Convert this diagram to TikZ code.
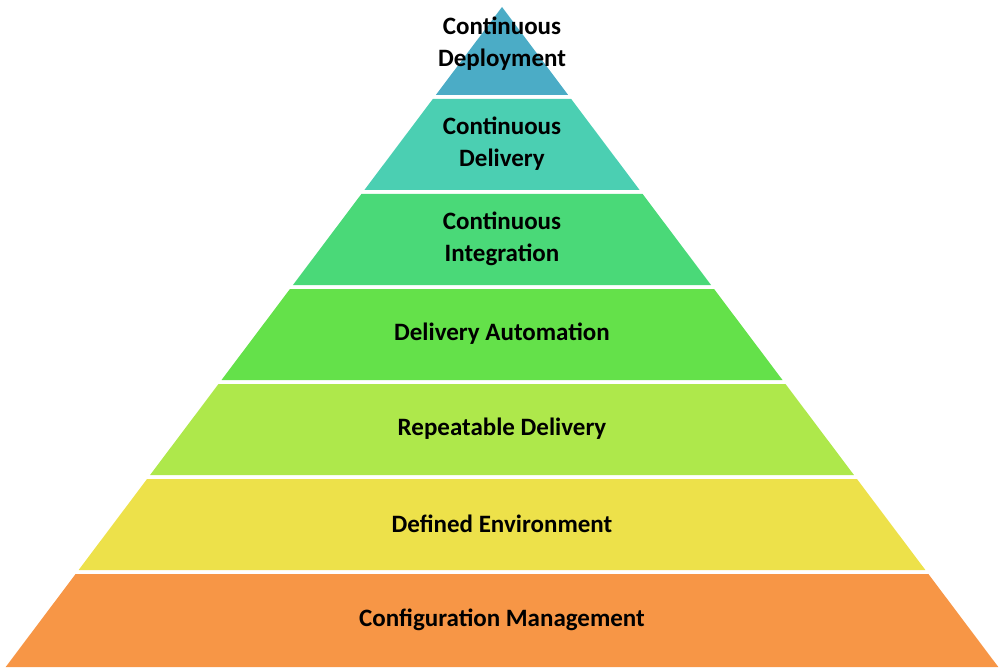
\documentclass[tikz,border=0pt]{standalone}
\usepackage{fontspec}
\setmainfont{Carlito}
\begin{document}
\begin{tikzpicture}[x=1pt,y=-1pt,
  lbl/.style={font=\fontsize{25}{32}\selectfont\bfseries,align=center,text=black}]
\useasboundingbox (0,0) rectangle (1004,671);
\definecolor{c1}{HTML}{4BACC6}
\definecolor{c2}{HTML}{4BCFB2}
\definecolor{c3}{HTML}{4AD978}
\definecolor{c4}{HTML}{64E14A}
\definecolor{c5}{HTML}{AEE84B}
\definecolor{c6}{HTML}{EDE14A}
\definecolor{c7}{HTML}{F79646}
\def\ax{502}\def\ay{7}\def\sl{0.752}
\foreach \t/\b/\c [count=\i] in {7/95/c1,99/190/c2,194/285/c3,289/380/c4,384/475/c5,479/570/c6,574/667/c7}{
  \pgfmathsetmacro\ht{(\t-\ay)*\sl}
  \pgfmathsetmacro\hb{(\b-\ay)*\sl}
  \fill[\c] (\ax-\ht,\t) -- (\ax+\ht,\t) -- (\ax+\hb,\b) -- (\ax-\hb,\b) -- cycle;
}
\node[lbl] (l1) at (502,44) {Continuous\\Deployment};
\node[lbl] (l2) at (502,144) {Continuous\\Delivery};
\node[lbl] (l3) at (502,239) {Continuous\\Integration};
\node[lbl] (l4) at (502,334) {Delivery Automation};
\node[lbl] (l5) at (502,429) {Repeatable Delivery};
\node[lbl] (l6) at (502,524) {Defined Environment};
\node[lbl] (l7) at (502,620) {Configuration Management};
\end{tikzpicture}
\end{document}
